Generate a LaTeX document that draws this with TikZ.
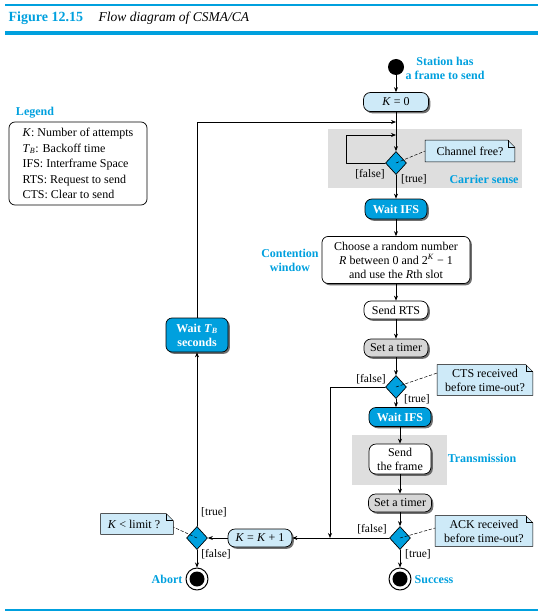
\documentclass[tikz,border=0pt]{standalone}
\usepackage{fontspec}
\setmainfont{Liberation Serif}
\usepackage{tikz}
\usetikzlibrary{shapes.geometric,arrows.meta,shadows,backgrounds}
\tikzset{>={Stealth[length=5pt,width=4pt]}}
\definecolor{figblue}{RGB}{0,160,222}
\definecolor{notefill}{RGB}{206,234,248}
\definecolor{regiongray}{RGB}{222,222,222}
\definecolor{timergray}{RGB}{214,214,214}

% folded note background, drawn behind a named node
\newcommand{\notebg}[1]{%
	\begin{scope}[on background layer]
		\draw[fill=notefill] (#1.south west) -- (#1.south east) -- ([yshift=-7pt]#1.north east) -- ([xshift=-7pt]#1.north east) -- (#1.north west) -- cycle;
		\draw ([xshift=-7pt]#1.north east) -- ([xshift=-7pt,yshift=-7pt]#1.north east) -- ([yshift=-7pt]#1.north east);
	\end{scope}}

\begin{document}
\begin{tikzpicture}[line cap=round,line join=round,x=1pt,y=-1pt,
		font=\fontsize{12}{14}\selectfont,line width=0.7pt,
		act/.style={draw,rounded corners=7pt,align=center,inner sep=1pt,
			drop shadow={shadow xshift=1.8pt,shadow yshift=-1.8pt,fill=black!70,opacity=0.8}},
		bluebox/.style={act,fill=notefill},
		plainbox/.style={act,fill=white},
		timerbox/.style={act,fill=timergray},
		waitbox/.style={act,fill=figblue,text=white,font=\fontsize{12}{14}\selectfont\bfseries},
		decision/.style={diamond,draw,fill=figblue,minimum width=21pt,minimum height=23pt,inner sep=0pt},
		note/.style={align=center,inner sep=1pt},
		tag/.style={text=figblue,font=\fontsize{12}{14}\selectfont\bfseries,align=center},
		guard/.style={font=\fontsize{11.5}{13}\selectfont},
		startdot/.style={circle,fill=black,minimum size=16pt,inner sep=0pt},
		enddot/.style={circle,draw,line width=1pt,fill=white,minimum size=22pt,inner sep=0pt}]
	\useasboundingbox (0,0) rectangle (543,615);

	% title bars
	\draw[figblue,line width=2pt,line cap=butt] (5,5) -- (538,5);
	\draw[figblue,line width=3.2pt,line cap=butt] (5,33) -- (538,33);
	\draw[figblue,line width=1.6pt,line cap=butt] (5,610) -- (538,610);
	\node[anchor=west,text=figblue,font=\fontsize{14}{16}\selectfont\bfseries] (figno) at (5,18) {Figure 12.15};
	\node[anchor=west,font=\fontsize{13.5}{16}\selectfont\itshape] (figtitle) at (95,18) {Flow diagram of CSMA/CA};

	% legend
	\node[tag] (legendlbl) at (35,113) {Legend};
	\node[draw,rounded corners=6pt,align=left,inner sep=3pt,minimum width=138pt,minimum height=83pt,
		font=\fontsize{12}{15.5}\selectfont] (legend) at (78,163.5)
		{\textit{K}: Number of attempts\\ \textit{T}\textsubscript{\textit{B}}: Backoff time\\ IFS: Interframe Space\\ RTS: Request to send\\ CTS: Clear to send};

	% shaded regions
	\begin{scope}[on background layer]
		\fill[regiongray] (328,129) rectangle (522,188);
		\fill[regiongray] (352,435) rectangle (447,485);
	\end{scope}

	% main column
	\node[startdot] (start) at (396,67) {};
	\node[tag] (stationlbl) at (445,68) {Station has\\a frame to send};
	\node[bluebox,minimum width=65pt,minimum height=19pt] (k0) at (396,102) {\textit{K} = 0};
	\coordinate (join) at (396,122);
	\coordinate (loopin) at (396,135);
	\coordinate (loopcorner) at (346,135);
	\node[decision] (cs) at (396,163) {};
	\node[note,minimum width=89pt,minimum height=21pt] (chfree) at (470,151) {Channel free?};
	\notebg{chfree}
	\node[guard] (csfalse) at (370,174) {[false]};
	\node[guard] (cstrue) at (414,179) {[true]};
	\node[tag] (cslbl) at (484,179) {Carrier sense};
	\node[waitbox,minimum width=62pt,minimum height=20pt] (wifs) at (396,209) {Wait IFS};
	\node[plainbox,rounded corners=6pt,minimum width=148pt,minimum height=47pt] (choose) at (396,260)
		{Choose a random number\\ \textit{R} between 0 and 2\textsuperscript{\textit{K}} − 1\\ and use the \textit{R}th slot};
	\node[tag] (cwlbl) at (290,260) {Contention\\window};
	\node[plainbox,minimum width=64pt,minimum height=18pt] (rts) at (396,310) {Send RTS};
	\node[timerbox,minimum width=64pt,minimum height=18pt] (timer1) at (396,348) {Set a timer};
	\node[decision] (cts) at (396,387) {};
	\node[note,minimum width=95pt,minimum height=30pt] (ctsnote) at (485,380) {CTS received\\before time-out?};
	\notebg{ctsnote}
	\node[guard] (ctsfalse) at (371,379) {[false]};
	\node[guard] (ctstrue) at (417,399) {[true]};
	\node[waitbox,minimum width=62pt,minimum height=19pt] (wifs2) at (400,417) {Wait IFS};
	\node[plainbox,minimum width=62pt,minimum height=30pt] (frame) at (400,459) {Send\\the frame};
	\node[tag] (txlbl) at (482,458) {Transmission};
	\node[timerbox,minimum width=63pt,minimum height=18pt] (timer2) at (400,503) {Set a timer};
	\node[decision] (ack) at (400,538) {};
	\node[note,minimum width=97pt,minimum height=30pt] (acknote) at (484,531) {ACK received\\before time-out?};
	\notebg{acknote}
	\node[guard] (ackfalse) at (372,529) {[false]};
	\node[guard] (acktrue) at (418,554) {[true]};
	\node[enddot] (success) at (400,579) {};
	\node[startdot,minimum size=15pt] (successdot) at (400,579) {};
	\node[tag] (successlbl) at (434,580) {Success};

	% back-off branch
	\coordinate (ctsdrop) at (330,538);
	\node[bluebox,minimum width=64pt,minimum height=18pt] (kinc) at (260,538) {\textit{K} = \textit{K} + 1};
	\node[decision] (kdec) at (197,538) {};
	\node[note,minimum width=72pt,minimum height=20pt] (klimit) at (137,524) {\textit{K} < limit ?\hspace{6pt}};
	\notebg{klimit}
	\node[guard] (kdectrue) at (214,512) {[true]};
	\node[guard] (kdecfalse) at (216,554) {[false]};
	\node[enddot] (abort) at (197,579) {};
	\node[startdot,minimum size=15pt] (abortdot) at (197,579) {};
	\node[tag] (abortlbl) at (167,579) {Abort};
	\node[waitbox,rounded corners=6pt,minimum width=62pt,minimum height=34pt] (waittb) at (197,335)
		{Wait \textit{T}\textsubscript{\textit{B}}\\seconds};

	% connectors
	\draw[->] (start) -- (k0);
	\draw[->] (k0) -- (cs);
	\draw[->] (waittb.north) |- (join);
	\draw[->] (cs.west) -| (loopcorner) -- (loopin);
	\draw[densely dashed,line width=0.5pt] (cs.center) -- (chfree.west);
	\draw[->] (cs) -- (wifs);
	\draw[->] (wifs) -- (choose);
	\draw[->] (choose) -- (rts);
	\draw[->] (rts) -- (timer1);
	\draw[->] (timer1) -- (cts);
	\draw[densely dashed,line width=0.5pt] (cts.center) -- ([yshift=7pt]ctsnote.west);
	\draw[->] (cts.south) -- (cts.south |- wifs2.north);
	\draw[->] (cts.west) -| (ctsdrop);
	\draw[->] (wifs2) -- (frame);
	\draw[->] (frame) -- (timer2);
	\draw[->] (timer2) -- (ack);
	\draw[densely dashed,line width=0.5pt] (ack.center) -- ([yshift=3pt]acknote.west);
	\draw[->] (ack) -- (success);
	\draw[->] (ack.west) -- (kinc.east);
	\draw[->] (kinc.west) -- (kdec.east);
	\draw[densely dashed,line width=0.5pt] (kdec.center) -- ([yshift=-3pt]klimit.east);
	\draw[->] (kdec.north) -- (waittb.south);
	\draw[->] (kdec) -- (abort);
\end{tikzpicture}
\end{document}
